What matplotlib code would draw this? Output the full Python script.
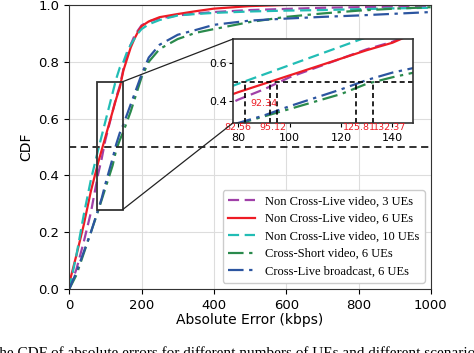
import numpy as np
import matplotlib
matplotlib.use("Agg")
import matplotlib.pyplot as plt
from matplotlib.patches import Rectangle, ConnectionPatch

# --- data (absolute error in kbps, CDF value) ---
x_pts = [0, 20, 40, 60, 80, 90, 100, 110, 120, 130, 140, 150, 160, 170, 180, 190,
         200, 220, 250, 300, 350, 400, 500, 600, 700, 800, 900, 1000]

cdf_3ue = [0.0, 0.07, 0.165, 0.27, 0.405, 0.46, 0.525, 0.575, 0.625, 0.675, 0.715, 0.775,
           0.825, 0.86, 0.89, 0.91, 0.928, 0.942, 0.953, 0.963, 0.97, 0.975, 0.982, 0.986,
           0.99, 0.992, 0.994, 0.995]
cdf_6ue = [0.02, 0.12, 0.225, 0.345, 0.445, 0.49, 0.535, 0.58, 0.625, 0.67, 0.71, 0.77,
           0.81, 0.85, 0.88, 0.905, 0.925, 0.942, 0.957, 0.968, 0.978, 0.987, 0.996, 1.0,
           1.0, 1.0, 1.0, 1.0]
cdf_10ue = [0.0, 0.12, 0.26, 0.385, 0.49, 0.54, 0.59, 0.64, 0.69, 0.74, 0.78, 0.80,
            0.835, 0.86, 0.88, 0.90, 0.915, 0.932, 0.947, 0.963, 0.968, 0.972, 0.977, 0.98,
            0.982, 0.985, 0.988, 0.99]
cdf_short = [0.0, 0.05, 0.125, 0.20, 0.275, 0.315, 0.355, 0.395, 0.435, 0.49, 0.525, 0.555,
             0.59, 0.625, 0.665, 0.705, 0.745, 0.80, 0.845, 0.88, 0.902, 0.915, 0.94, 0.958,
             0.97, 0.98, 0.987, 0.992]
cdf_bcast = [0.0, 0.06, 0.13, 0.20, 0.28, 0.32, 0.37, 0.415, 0.46, 0.51, 0.55, 0.58,
             0.615, 0.65, 0.685, 0.72, 0.755, 0.815, 0.86, 0.895, 0.912, 0.93, 0.945, 0.952,
             0.958, 0.963, 0.969, 0.975]

labels = ["Non Cross-Live video, 3 UEs", "Non Cross-Live video, 6 UEs",
          "Non Cross-Live video, 10 UEs", "Cross-Short video, 6 UEs",
          "Cross-Live broadcast, 6 UEs"]
medians = [82.56, 92.34, 95.12, 125.81, 132.37]

series = [cdf_3ue, cdf_6ue, cdf_10ue, cdf_short, cdf_bcast]
colors = ["#a040a8", "#ee1c25", "#22bdb5", "#2a8a4c", "#2c55a0"]
styles = [(0, (5, 2.5)), "-", (0, (5, 2.5)), (0, (7, 2.5, 1.5, 2.5)), (0, (7, 2.5, 1.5, 2.5))]

fig = plt.figure(figsize=(4.74, 3.53), dpi=100)
ax = fig.add_axes([0.146, 0.181, 0.763, 0.805])

for y, c, ls, lab in zip(series, colors, styles, labels):
    ax.plot(x_pts, y, color=c, linestyle=ls, lw=1.6, label=lab)
ax.axhline(0.5, color="#222222", ls=(0, (4, 2.5)), lw=1.3)

ax.set_xlim(0, 1000)
ax.set_ylim(0, 1.0)
ax.set_xticks([0, 200, 400, 600, 800, 1000])
ax.set_yticks([0.0, 0.2, 0.4, 0.6, 0.8, 1.0])
ax.tick_params(labelsize=9.5)
ax.grid(True, color="#dddddd", lw=0.8)
ax.set_axisbelow(True)
ax.set_xlabel("Absolute Error (kbps)", fontsize=10, labelpad=1)
ax.set_ylabel("CDF", fontsize=10)
for s in ax.spines.values():
    s.set_color("#333333")

leg = ax.legend(loc="lower right", prop={"family": "Liberation Serif", "size": 9},
                framealpha=1, edgecolor="#cccccc", handlelength=2.2, labelspacing=0.45)

# zoom box
x0, x1, y0, y1 = 78, 148, 0.28, 0.73
ax.add_patch(Rectangle((x0, y0), x1 - x0, y1 - y0, fill=False, ec="#333333", lw=1.3, zorder=5))

axins = fig.add_axes([0.4916, 0.6516, 0.3797, 0.2379])
for y, c, ls in zip(series, colors, styles):
    axins.plot(x_pts, y, color=c, linestyle=ls, lw=1.6)
axins.axhline(0.5, color="black", ls=(0, (3, 2)), lw=1.2)
for m in medians:
    axins.plot([m, m], [y0, 0.5], color="black", ls=(0, (3, 2)), lw=1.2)
axins.set_xlim(x0, x1)
axins.set_ylim(y0, y1)
axins.set_xticks([80, 100, 120, 140])
axins.set_yticks([0.4, 0.6])
axins.tick_params(axis="x", labelsize=8, pad=4, length=3)
axins.tick_params(axis="y", labelsize=8, pad=1.5, length=3)
for s in axins.spines.values():
    s.set_color("#333333")
    s.set_linewidth(1.2)

# red value labels in the inset
lab_pos = [(80, 0.258), (90, 0.385), (93.5, 0.258), (127.2, 0.258), (139, 0.258)]
for m, (lx, ly) in zip(medians, lab_pos):
    axins.text(lx, ly, f"{m:.2f}", color="#ee1c25", fontsize=6.8, ha="center", va="center",
               clip_on=False)

for ya, yb in [(y1, 1), (y0, 0)]:
    con = ConnectionPatch(xyA=(x1, ya), coordsA=ax.transData, xyB=(0, yb),
                          coordsB=axins.transAxes, color="#222222", lw=0.9)
    fig.add_artist(con)

# cut-off caption line at the bottom of the screenshot
fig.text(-0.01, 6 / 353, "the CDF of absolute errors for different numbers of UEs and different scenarios",
         fontsize=11, family="Liberation Serif", va="top", ha="left")

fig.savefig("out.png", dpi=100)
